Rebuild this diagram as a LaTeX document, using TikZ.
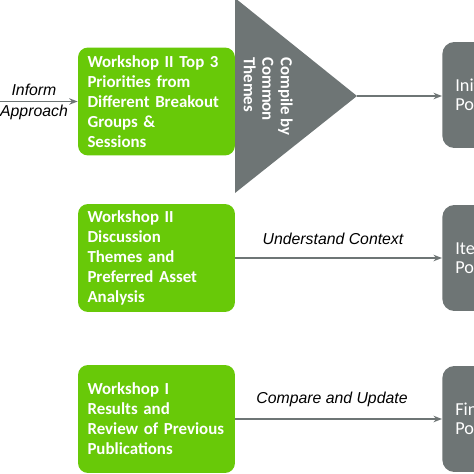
\documentclass[tikz,border=0pt]{standalone}
\usepackage{fontspec}
\setmainfont{Liberation Sans}
\newfontfamily\carl{Carlito}
\usetikzlibrary{arrows.meta}
\definecolor{vertclair}{RGB}{104,201,8}
\definecolor{grisfonce}{RGB}{110,117,117}
\hyphenpenalty=10000
\begin{document}
\begin{tikzpicture}[x=0.02cm,y=-0.02cm]
\tikzset{vert/.style={fill=vertclair, rounded corners=0.2cm, minimum width=3.14cm, minimum height=2.16cm, text width=2.76cm, align=left, inner sep=0pt, text=white, font=\carl\bfseries\fontsize{9.6}{11.4}\selectfont},
gris/.style={fill=grisfonce, rounded corners=0.24cm, minimum width=2.8cm, minimum height=2.12cm, text width=2.28cm, align=left, inner sep=0pt, anchor=west, text=white, font=\carl\fontsize{10.4}{11}\selectfont},
lien/.style={draw=grisfonce, line width=1.1pt, -{Stealth[length=0.17cm, width=0.13cm]}},
etiq/.style={font=\itshape\fontsize{9}{12}\selectfont}}
\useasboundingbox (0,0) rectangle (474,474);
\clip (0,0) rectangle (474,474);
\node[vert] (B1) at (156.5,101.5) {Workshop II Top 3\\Priorities from\\Different Breakout\\Groups \&\\Sessions};
\node[vert] (B2) at (156.5,258) {Workshop II\\Discussion\\Themes and\\Preferred Asset\\Analysis};
\node[vert] (B3) at (156.5,419) {Workshop I\\Results and\\Review of Previous\\Publications};
\fill[grisfonce] (235,-2) -- (357,96) -- (235,193) -- cycle;
\coordinate (T) at (357,96);
\node[rotate=-90, anchor=north west, align=left, inner sep=0pt, text=white, font=\carl\bfseries\fontsize{9.6}{10.5}\selectfont] (C) at (293,57) {Compile by\\Common\\Themes};
\node[gris] (G1) at (442,95) {Initial\\Potential};
\node[gris] (G2) at (442,258) {Iterative\\Potential};
\node[gris] (G3) at (442,419) {Final\\Potential};
\coordinate (E) at (0,101.5);
\draw[lien] (E) -- (B1);
\draw[lien] (T) -- (T -| G1.west);
\draw[lien] (B2) -- (G2);
\draw[lien] (B3) -- (G3);
\node[etiq, align=center] (L1) at (34,102) {Inform\\Approach};
\node[etiq] (L2) at (333,239) {Understand Context};
\node[etiq] (L3) at (332,399) {Compare and Update};
\end{tikzpicture}
\end{document}
